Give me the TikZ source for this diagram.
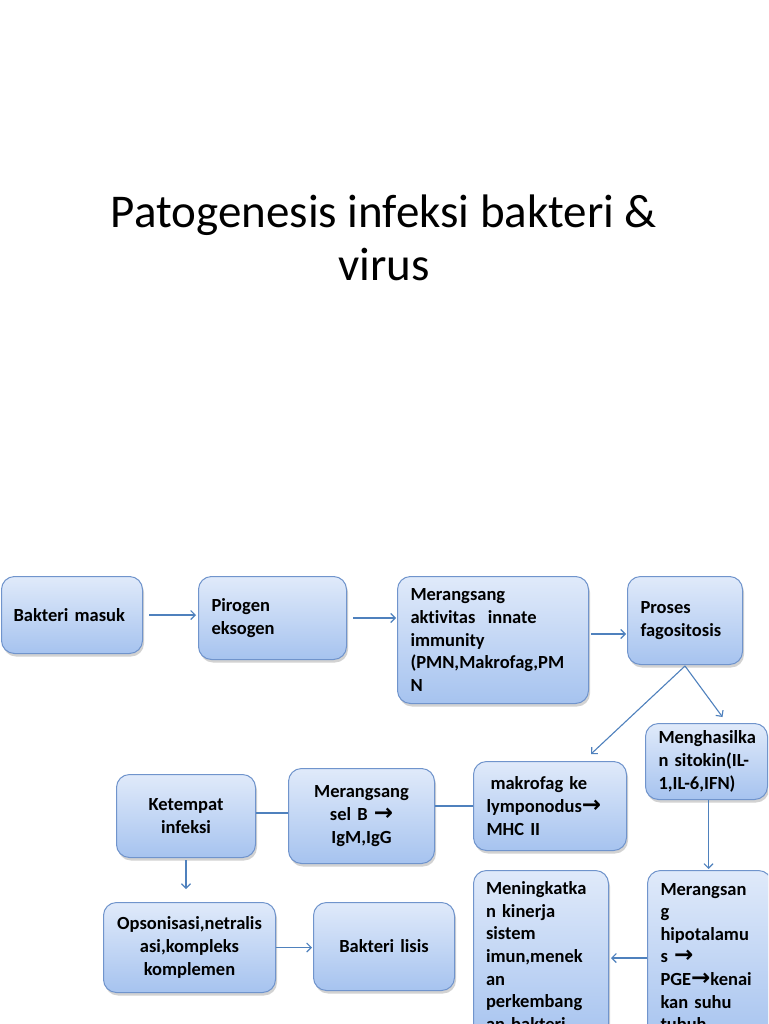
\documentclass[tikz,border=0pt]{standalone}
\usepackage{fontspec}
\setmainfont{Carlito}[Ligatures=NoCommon]
\newfontfamily\arrfont{DejaVu Sans}
\usetikzlibrary{arrows.meta,shadows,calc}
\definecolor{boxtop}{RGB}{224,234,250}
\definecolor{boxbot}{RGB}{166,195,239}
\definecolor{boxline}{RGB}{112,148,204}
\definecolor{conn}{RGB}{79,129,189}
\newcommand\ra{{\arrfont\fontsize{23}{22.6}\selectfont →}}
\tikzset{
  box/.style={draw=boxline, line width=1pt, rounded corners=13pt,
    top color=boxtop, bottom color=boxbot,
    drop shadow={shadow xshift=1.5pt, shadow yshift=-3pt, opacity=0.25, fill=black!70},
    anchor=north west, inner xsep=0pt, inner ysep=0pt,
    font=\bfseries\fontsize{18.5}{22.6}\selectfont},
  lbox/.style={box, align=left},
  cbox/.style={box, align=center},
  conn/.style={draw=conn, line width=1.1pt},
  arr/.style={conn, -{Straight Barb[length=4.5pt,width=9pt,line width=1.1pt]}}
}
\begin{document}
\begin{tikzpicture}[x=1pt,y=-1pt]
\useasboundingbox (0,0) rectangle (768,1024);
\fill[white] (0,0) rectangle (768,1024);
\clip (0,0) rectangle (768,1024);

\node[align=center, inner sep=0pt, anchor=base, font=\fontsize{47}{53}\selectfont] (title) at (384,227) {Patogenesis infeksi bakteri \&};
\node[align=center, inner sep=0pt, anchor=base, font=\fontsize{47}{53}\selectfont] (title2) at (384,280) {virus};

% row 1
\node[lbox, minimum width=141pt, minimum height=77pt, text width=117pt] (b1) at (1,576) {Bakteri masuk};
\node[lbox, minimum width=148pt, minimum height=83pt, text width=122pt] (b2) at (198,576) {Pirogen\\eksogen};
\node[lbox, minimum width=191pt, minimum height=127pt, text width=165pt] (b3) at (397,576) {Merangsang\\aktivitas\ \ innate\\immunity\\(PMN,Makrofag,PM\\N};
\node[lbox, minimum width=115pt, minimum height=88pt, text width=89pt] (b4) at (627,576) {Proses\\fagositosis};

% row 2
\node[lbox, minimum width=122pt, minimum height=76pt, text width=96pt] (b5) at (645,723) {Menghasilka\\n sitokin(IL-\\1,IL-6,IFN)};
\node[lbox, minimum width=153pt, minimum height=89pt, text width=127pt] (b6) at (473,761) {\hspace{4pt}makrofag ke\\lymponodus\ra\\MHC II};
\node[cbox, minimum width=146pt, minimum height=95pt, text width=126pt] (b7) at (288,768) {Merangsang\\sel B \ra\\IgM,IgG};
\node[cbox, minimum width=139pt, minimum height=83pt, text width=119pt] (b8) at (116,774) {Ketempat\\infeksi};

% row 3
\node[cbox, minimum width=172pt, minimum height=90pt, text width=160pt] (b9) at (103,902) {Opsonisasi,netralis\\asi,kompleks\\komplemen};
\node[cbox, minimum width=141pt, minimum height=88pt, text width=121pt] (b10) at (313,902) {Bakteri lisis};
\node[lbox, minimum width=135pt, minimum height=171pt, text width=110pt] (b11) at (473,870) {Meningkatka\\n kinerja\\sistem\\imun,menek\\an\\perkembang\\an bakteri};
\node[lbox, minimum width=124pt, minimum height=173pt, text width=98pt] (b12) at (647,870) {Merangsan\\g\\hipotalamu\\s \ra\\PGE\ra kenai\\kan suhu\\tubuh};

% connectors
\draw[arr, shorten <=6pt, shorten >=2pt] (b1.east) -- (b1.east -| b2.west);
\draw[arr, shorten <=6pt, shorten >=1pt] (b2.east) -- (b2.east -| b3.west);
\draw[arr, shorten <=2pt, shorten >=1pt] ([yshift=6pt]b3.east) -- ([yshift=6pt]b3.east -| b4.west);
\draw[arr] ([yshift=-1pt]b4.south) -- ([xshift=-36pt,yshift=7pt]b6.north east);
\draw[arr] ([yshift=-1pt]b4.south) -- ([xshift=16pt,yshift=6pt]b5.north);
\draw[conn] ([yshift=3pt]b8.east) -- ([yshift=3pt]b8.east -| b7.west);
\draw[conn] (b7.east |- b6.west) -- (b6.west);
\draw[arr, shorten <=2pt, shorten >=13pt] (b8.south) -- (b8.south |- b9.north);
\draw[arr, shorten >=1pt] (b9.east) -- (b9.east -| b10.west);
\draw[arr, shorten >=1pt] ([xshift=2pt]b5.south) -- ([xshift=2pt]b5.south |- b12.north);
\draw[arr, shorten >=2pt] ([yshift=-1pt]b12.west) -- ([yshift=-1pt]b12.west -| b11.east);
\end{tikzpicture}
\end{document}
